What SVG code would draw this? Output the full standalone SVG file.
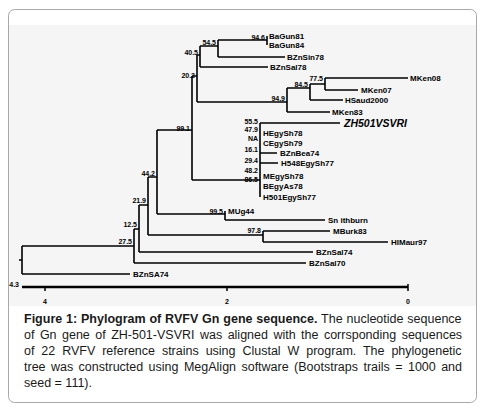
<svg xmlns="http://www.w3.org/2000/svg" width="483" height="411" viewBox="0 0 483 411">
<style>
.br{stroke:#000;stroke-width:1.6;fill:none}
.ax{stroke:#000;stroke-width:2.5;fill:none}
.tk{stroke:#000;stroke-width:1.5;fill:none}
.lf{font-family:"Liberation Sans",Arial,sans-serif;font-weight:bold;font-size:8px;fill:#000}
.bs{font-family:"Liberation Sans",Arial,sans-serif;font-weight:bold;font-size:7px;fill:#000;text-anchor:end}
.zh{font-family:"Liberation Sans",Arial,sans-serif;font-weight:bold;font-style:italic;font-size:10.5px;fill:#000}
.sc{font-family:"Liberation Sans",Arial,sans-serif;font-weight:bold;font-size:7px;fill:#000;text-anchor:middle}
.cap{font-family:"Liberation Sans",Arial,sans-serif;font-size:12.5px;fill:#1a1a1a}
</style>
<rect x="0" y="0" width="483" height="411" fill="#fff"/>
<rect x="8.5" y="9.5" width="468" height="393" rx="6" fill="#fff" stroke="#a8a8a8"/>
<rect x="9" y="25" width="467" height="281" fill="#f5f5f5"/>

<g id="connectors">
<path class="br" d="M19 260 H22 M22 246 V274 M22 246 H134 M22 274 H130"/>
<path class="br" d="M134 229 V263 M134 263 H306 M134 229 H139"/>
<path class="br" d="M139 205 V252 M139 252 H313 M139 205 H148"/>
<path class="br" d="M148 177 V235 M148 235 H263 M148 177 H157"/>
<path class="br" d="M263 231 V242 M263 231 H330 M263 242 H388"/>
<path class="br" d="M157 130 V214 M157 214 H225 M157 130 H192"/>
<path class="br" d="M225 211 V220 M225 220 H325"/>
<path class="br" d="M192 76 V180 M192 180 H260 M192 76 H197"/>
<path class="br" d="M260 123 V197 M260 123 H340 M260 153 H277 M260 163 H278"/>
<path class="br" d="M197 55 V102 M197 102 H287 M197 55 H200"/>
<path class="br" d="M200 46 V67 M200 67 H268 M200 46 H218"/>
<path class="br" d="M218 40 V57 M218 57 H285 M218 40 H267"/>
<path class="br" d="M267 36 V45"/>
<path class="br" d="M287 88 V112 M287 112 H330 M287 88 H310"/>
<path class="br" d="M310 84 V100 M310 100 H343 M310 84 H325"/>
<path class="br" d="M325 78 V90 M325 78 H408 M325 90 H358"/>
</g>

<g id="internal-nodes">
<g id="n27_5"><text class="bs" x="132" y="244">27.5</text></g>
<g id="n12_5"><text class="bs" x="137" y="227">12.5</text></g>
<g id="n21_9"><text class="bs" x="146" y="203">21.9</text></g>
<g id="n97_8"><text class="bs" x="261" y="233">97.8</text></g>
<g id="n44_2"><text class="bs" x="155" y="176">44.2</text></g>
<g id="n99_5"><text class="bs" x="223" y="214">99.5</text></g>
<g id="n99_1"><text class="bs" x="190" y="131">99.1</text></g>
<g id="n20_2"><text class="bs" x="195" y="78">20.2</text></g>
<g id="n40_5"><text class="bs" x="198" y="55">40.5</text></g>
<g id="n54_5"><text class="bs" x="216" y="45">54.5</text></g>
<g id="n94_6"><text class="bs" x="265" y="40">94.6</text></g>
<g id="n94_9"><text class="bs" x="285" y="101">94.9</text></g>
<g id="n84_5"><text class="bs" x="308" y="87">84.5</text></g>
<g id="n77_5"><text class="bs" x="323" y="81">77.5</text></g>
<g id="n55_5"><text class="bs" x="258" y="124">55.5</text></g>
<g id="n47_9"><text class="bs" x="258" y="132">47.9</text></g>
<g id="nNA"><text class="bs" x="258" y="141">NA</text></g>
<g id="n16_1"><text class="bs" x="258" y="152">16.1</text></g>
<g id="n29_4"><text class="bs" x="258" y="163">29.4</text></g>
<g id="n48_2"><text class="bs" x="258" y="173">48.2</text></g>
<g id="n86_5"><text class="bs" x="258" y="182">86.5</text></g>
</g>

<g id="leaves">
<g id="BaGun81"><text class="lf" x="269" y="39">BaGun81</text></g>
<g id="BaGun84"><text class="lf" x="269" y="48">BaGun84</text></g>
<g id="BZnSin78"><text class="lf" x="287" y="60">BZnSin78</text></g>
<g id="BZnSal78"><text class="lf" x="270" y="70">BZnSal78</text></g>
<g id="MKen08"><text class="lf" x="410" y="81">MKen08</text></g>
<g id="MKen07"><text class="lf" x="361" y="93">MKen07</text></g>
<g id="HSaud2000"><text class="lf" x="345" y="103">HSaud2000</text></g>
<g id="MKen83"><text class="lf" x="332" y="115">MKen83</text></g>
<g id="ZH501VSVRI"><text class="zh" x="344" y="127">ZH501VSVRI</text></g>
<g id="HEgySh78"><text class="lf" x="263" y="136">HEgySh78</text></g>
<g id="CEgySh79"><text class="lf" x="263" y="146">CEgySh79</text></g>
<g id="BZnBea74"><text class="lf" x="280" y="156">BZnBea74</text></g>
<g id="H548EgySh77"><text class="lf" x="281" y="166">H548EgySh77</text></g>
<g id="MEgySh78"><text class="lf" x="263" y="179">MEgySh78</text></g>
<g id="BEgyAs78"><text class="lf" x="263" y="189">BEgyAs78</text></g>
<g id="H501EgySh77"><text class="lf" x="263" y="200">H501EgySh77</text></g>
<g id="MUg44"><text class="lf" x="228" y="214">MUg44</text></g>
<g id="Snithburn"><text class="lf" x="328" y="223">Sn ithburn</text></g>
<g id="MBurk83"><text class="lf" x="333" y="234">MBurk83</text></g>
<g id="HIMaur97"><text class="lf" x="391" y="245">HIMaur97</text></g>
<g id="BZnSal74"><text class="lf" x="316" y="255">BZnSal74</text></g>
<g id="BZnSal70"><text class="lf" x="309" y="266">BZnSal70</text></g>
<g id="BZnSA74"><text class="lf" x="133" y="277">BZnSA74</text></g>
</g>

<g id="scale">
<path class="ax" d="M22 287 H408"/>
<path class="tk" d="M45 287 V291 M227 287 V291 M408 284 V291"/>
<text class="bs" x="19" y="287">4.3</text>
<text class="sc" x="45" y="304">4</text>
<text class="sc" x="227" y="304">2</text>
<text class="sc" x="408" y="304">0</text>
</g>

<g id="caption">
<text class="cap" x="24" y="323" word-spacing="0.38"><tspan font-weight="bold">Figure 1: Phylogram of RVFV Gn gene sequence.</tspan> The nucleotide sequence</text>
<text class="cap" x="24" y="339" word-spacing="1.98">of Gn gene of ZH-501-VSVRI was aligned with the corrsponding sequences</text>
<text class="cap" x="24" y="355" word-spacing="3.44">of 22 RVFV reference strains using Clustal W program. The phylogenetic</text>
<text class="cap" x="24" y="371" word-spacing="1.94">tree was constructed using MegAlign software (Bootstraps trails = 1000 and</text>
<text class="cap" x="24" y="387">seed = 111).</text>
</g>
</svg>
